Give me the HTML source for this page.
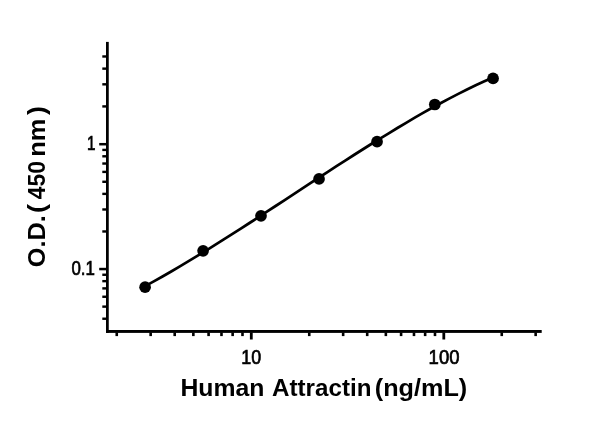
<!DOCTYPE html>
<html><head><meta charset="utf-8"><title>Human Attractin standard curve</title>
<style>
html,body{margin:0;padding:0;background:#fff;}
body{width:600px;height:421px;overflow:hidden;}
svg{display:block;}
.tick{font-family:"Liberation Sans",Arial,sans-serif;font-size:21.0px;fill:#000;stroke:#000;stroke-width:0.7px;}
.lab{font-family:"Liberation Sans",Arial,sans-serif;font-weight:bold;font-size:23.2px;fill:#000;}
</style></head><body>
<svg width="600" height="421" viewBox="0 0 600 421">
<rect x="0" y="0" width="600" height="421" fill="#fff"/>
<g fill="#000">
<rect x="106.0" y="41.9" width="2.75" height="291.00"/>
<rect x="106.0" y="330.0" width="435.70" height="2.90"/>
<rect x="102.3" y="317.53" width="4.5" height="2.4"/>
<rect x="102.3" y="305.43" width="4.5" height="2.4"/>
<rect x="102.3" y="295.55" width="4.5" height="2.4"/>
<rect x="102.3" y="287.19" width="4.5" height="2.4"/>
<rect x="102.3" y="279.95" width="4.5" height="2.4"/>
<rect x="102.3" y="273.56" width="4.5" height="2.4"/>
<rect x="99.2" y="267.80" width="7.5" height="2.5"/>
<rect x="102.3" y="230.27" width="4.5" height="2.4"/>
<rect x="102.3" y="208.28" width="4.5" height="2.4"/>
<rect x="102.3" y="192.68" width="4.5" height="2.4"/>
<rect x="102.3" y="180.58" width="4.5" height="2.4"/>
<rect x="102.3" y="170.70" width="4.5" height="2.4"/>
<rect x="102.3" y="162.34" width="4.5" height="2.4"/>
<rect x="102.3" y="155.10" width="4.5" height="2.4"/>
<rect x="102.3" y="148.71" width="4.5" height="2.4"/>
<rect x="99.2" y="142.95" width="7.5" height="2.5"/>
<rect x="102.3" y="105.22" width="4.5" height="2.4"/>
<rect x="102.3" y="83.12" width="4.5" height="2.4"/>
<rect x="102.3" y="67.44" width="4.5" height="2.4"/>
<rect x="102.3" y="55.28" width="4.5" height="2.4"/>
<rect x="115.45" y="332.4" width="2.6" height="3.70"/>
<rect x="149.35" y="332.4" width="2.6" height="3.70"/>
<rect x="173.40" y="332.4" width="2.6" height="3.70"/>
<rect x="192.05" y="332.4" width="2.6" height="3.70"/>
<rect x="207.29" y="332.4" width="2.6" height="3.70"/>
<rect x="220.18" y="332.4" width="2.6" height="3.70"/>
<rect x="231.34" y="332.4" width="2.6" height="3.70"/>
<rect x="241.19" y="332.4" width="2.6" height="3.70"/>
<rect x="249.90" y="332.4" width="2.8" height="7.10"/>
<rect x="307.95" y="332.4" width="2.6" height="3.70"/>
<rect x="341.85" y="332.4" width="2.6" height="3.70"/>
<rect x="365.90" y="332.4" width="2.6" height="3.70"/>
<rect x="384.55" y="332.4" width="2.6" height="3.70"/>
<rect x="399.79" y="332.4" width="2.6" height="3.70"/>
<rect x="412.68" y="332.4" width="2.6" height="3.70"/>
<rect x="423.84" y="332.4" width="2.6" height="3.70"/>
<rect x="433.69" y="332.4" width="2.6" height="3.70"/>
<rect x="442.40" y="332.4" width="2.8" height="7.10"/>
<rect x="500.45" y="332.4" width="2.6" height="3.70"/>
<rect x="534.35" y="332.4" width="2.6" height="3.70"/>
<path d="M145.1,286.1 L153.8,281.4 L162.5,276.5 L171.2,271.5 L179.9,266.4 L188.6,261.2 L197.3,255.9 L206.0,250.6 L214.7,245.2 L223.4,239.7 L232.1,234.2 L240.8,228.6 L249.5,223.0 L258.2,217.4 L266.9,211.7 L275.6,206.0 L284.3,200.3 L293.0,194.6 L301.7,188.9 L310.4,183.2 L319.1,177.5 L327.8,171.9 L336.5,166.2 L345.2,160.6 L353.9,155.0 L362.6,149.5 L371.3,144.0 L380.0,138.6 L388.7,133.3 L397.4,128.0 L406.1,122.8 L414.8,117.7 L423.5,112.7 L432.2,107.8 L440.9,103.0 L449.6,98.4 L458.3,93.9 L467.0,89.5 L475.7,85.3 L484.4,81.3 L493.1,77.4" fill="none" stroke="#000" stroke-width="2.7" stroke-linecap="round" stroke-linejoin="round"/>
<circle cx="145.1" cy="287.2" r="5.85"/>
<circle cx="203.1" cy="250.8" r="5.85"/>
<circle cx="261.0" cy="215.8" r="5.85"/>
<circle cx="319.05" cy="178.9" r="5.85"/>
<circle cx="377.05" cy="141.7" r="5.85"/>
<circle cx="434.8" cy="104.5" r="5.85"/>
<circle cx="493.05" cy="78.4" r="5.85"/>
</g>
<text class="tick" y="149.7"><tspan x="86.99" textLength="8.51" lengthAdjust="spacingAndGlyphs">1</tspan></text>
<text class="tick" y="274.6"><tspan x="71.40" textLength="23.47" lengthAdjust="spacingAndGlyphs">0.1</tspan></text>
<text class="tick" y="364.0"><tspan x="241.24" textLength="19.88" lengthAdjust="spacingAndGlyphs">10</tspan></text>
<text class="tick" y="364.0"><tspan x="428.60" textLength="30.88" lengthAdjust="spacingAndGlyphs">100</tspan></text>
<text class="lab" y="396.2"><tspan x="180.40" textLength="83.97" lengthAdjust="spacingAndGlyphs">Human</tspan> <tspan x="272.05" textLength="99.38" lengthAdjust="spacingAndGlyphs">Attractin</tspan> <tspan x="374.78" textLength="92.45" lengthAdjust="spacingAndGlyphs">(ng/mL)</tspan></text>
<text class="lab" transform="translate(45.2,0) rotate(-90)" y="0"><tspan x="-267.29" textLength="51.98" lengthAdjust="spacingAndGlyphs">O.D.</tspan> <tspan x="-213.10" textLength="8.92" lengthAdjust="spacingAndGlyphs">(</tspan><tspan x="-199.27" textLength="38.20" lengthAdjust="spacingAndGlyphs">450</tspan> <tspan x="-156.84" textLength="38.08" lengthAdjust="spacingAndGlyphs">nm</tspan><tspan x="-114.94" textLength="8.92" lengthAdjust="spacingAndGlyphs">)</tspan></text>
</svg>
</body></html>
